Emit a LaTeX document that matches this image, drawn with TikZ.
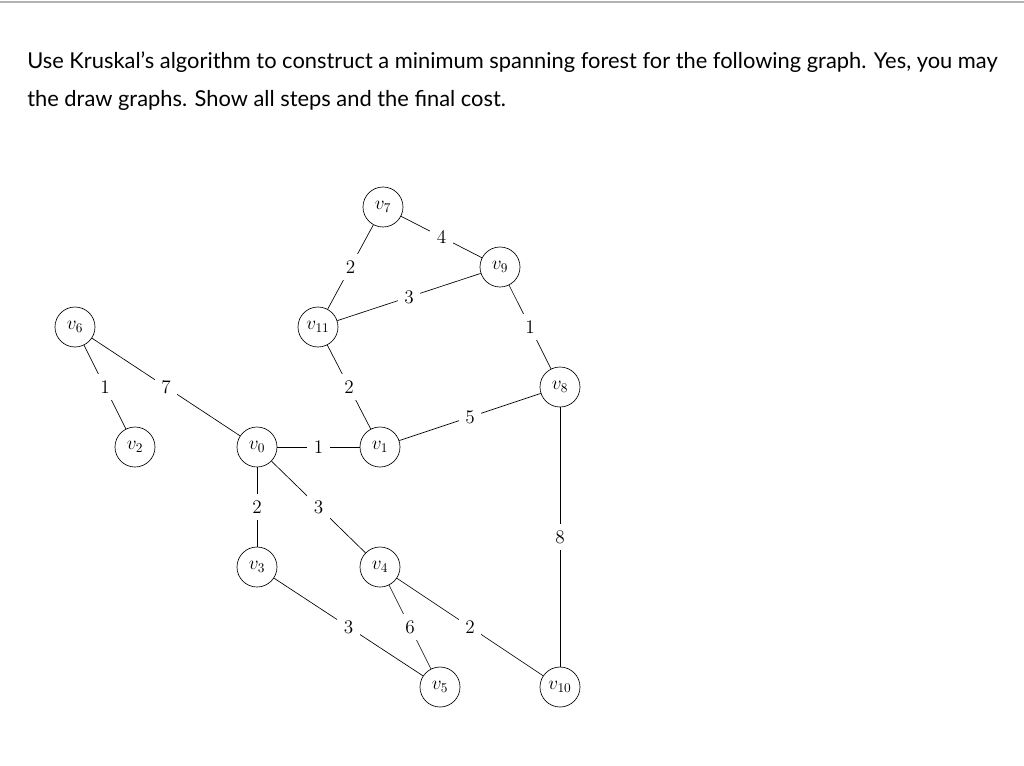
\documentclass[tikz,border=0pt]{standalone}
\usepackage{fontspec}
\newfontfamily\latofont{Lato}
\begin{document}
\begin{tikzpicture}[x=0.75pt,y=-0.75pt,
  vtx/.style={circle,draw,line width=0.5pt,minimum size=30pt,inner sep=0pt,font=\Large},
  lbl/.style={midway,fill=white,inner sep=5pt,font=\Large},
  ed/.style={line width=0.5pt}]
\useasboundingbox (0,0) rectangle (1024,765);
\draw[gray!60,line width=1pt] (0,2) -- (1024,2);
\node[anchor=base west,font=\latofont\fontsize{16.4}{19}\selectfont,inner sep=0pt] (t1) at (27,68) {Use Kruskal’s algorithm to construct a minimum spanning forest for the following graph. Yes, you may};
\node[anchor=base west,font=\latofont\fontsize{16.4}{19}\selectfont,inner sep=0pt] (t2) at (27,106) {the draw graphs. Show all steps and the final cost.};
\node[vtx] (v7) at (383,207) {$v_7$};
\node[vtx] (v9) at (500,267) {$v_9$};
\node[vtx] (v6) at (75,327) {$v_6$};
\node[vtx] (v11) at (318,327) {$v_{11}$};
\node[vtx] (v8) at (560,387) {$v_8$};
\node[vtx] (v2) at (135,447) {$v_2$};
\node[vtx] (v0) at (257,447) {$v_0$};
\node[vtx] (v1) at (380,447) {$v_1$};
\node[vtx] (v3) at (257,567) {$v_3$};
\node[vtx] (v4) at (380,567) {$v_4$};
\node[vtx] (v5) at (440,687) {$v_5$};
\node[vtx] (v10) at (560,687) {$v_{10}$};
\draw[ed] (v7) -- node[lbl]{2} (v11);
\draw[ed] (v7) -- node[lbl]{4} (v9);
\draw[ed] (v11) -- node[lbl]{3} (v9);
\draw[ed] (v9) -- node[lbl]{1} (v8);
\draw[ed] (v6) -- node[lbl]{1} (v2);
\draw[ed] (v6) -- node[lbl]{7} (v0);
\draw[ed] (v11) -- node[lbl]{2} (v1);
\draw[ed] (v1) -- node[lbl]{5} (v8);
\draw[ed] (v0) -- node[lbl]{1} (v1);
\draw[ed] (v0) -- node[lbl]{2} (v3);
\draw[ed] (v0) -- node[lbl]{3} (v4);
\draw[ed] (v8) -- node[lbl]{8} (v10);
\draw[ed] (v3) -- node[lbl]{3} (v5);
\draw[ed] (v4) -- node[lbl]{6} (v5);
\draw[ed] (v4) -- node[lbl]{2} (v10);
\end{tikzpicture}
\end{document}
